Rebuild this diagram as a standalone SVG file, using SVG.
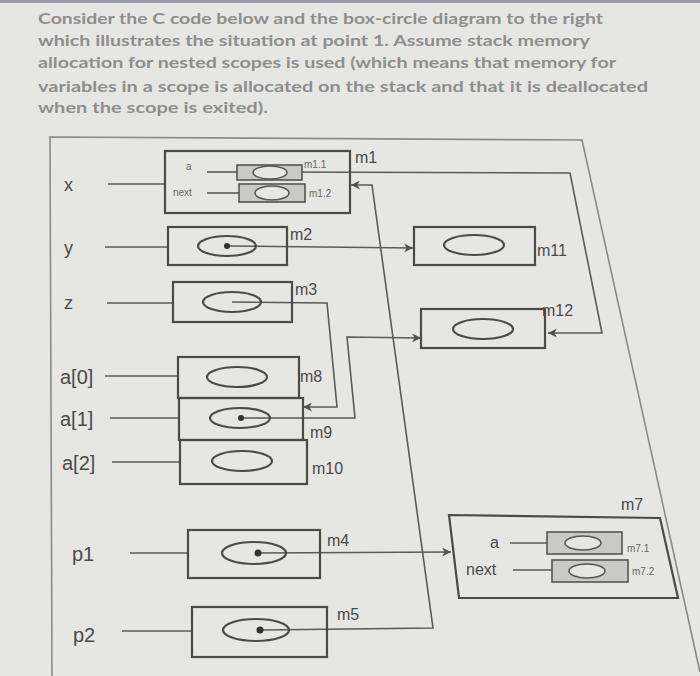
<svg xmlns="http://www.w3.org/2000/svg" width="700" height="676" viewBox="0 0 700 676">
<defs>
<marker id="ah" viewBox="0 0 10 10" refX="10" refY="5" markerWidth="10" markerHeight="9" markerUnits="userSpaceOnUse" orient="auto">
<path d="M0,0 L10,5 L0,10 L3,5 z" fill="#505050"/>
</marker>
<style>
.q{font-family:Lato,"Liberation Sans",sans-serif;font-weight:bold;font-size:16px;fill:#8e8e8e}
.lb{font-family:"Liberation Sans",Arial,sans-serif;fill:#4a4a4a}
.v{font-size:18px}
.ar{font-size:20px}
.m{font-size:16px}
.s{font-size:10px;fill:#666}
.box{fill:none;stroke:#4a4a4a;stroke-width:2.2}
.ibox{fill:#c9c9c7;stroke:#555;stroke-width:1.6}
.el{fill:none;stroke:#4a4a4a;stroke-width:2.2}
.iel{fill:#e6e6e4;stroke:#555;stroke-width:1.5}
.ln{fill:none;stroke:#5a5a5a;stroke-width:1.6}
.fr{fill:none;stroke:#8a8a8a;stroke-width:1.6}
.dot{fill:#333}
</style>
</defs>
<rect width="700" height="676" fill="#e6e6e4"/>
<rect width="700" height="3" fill="#9a9aa8"/>
<g id="question">
<text class="q" x="38" y="24" textLength="565" lengthAdjust="spacingAndGlyphs">Consider the C code below and the box-circle diagram to the right</text>
<text class="q" x="38" y="46" textLength="552" lengthAdjust="spacingAndGlyphs">which illustrates the situation at point 1. Assume stack memory</text>
<text class="q" x="38" y="68" textLength="578" lengthAdjust="spacingAndGlyphs">allocation for nested scopes is used (which means that memory for</text>
<text class="q" x="38" y="92" textLength="610" lengthAdjust="spacingAndGlyphs">variables in a scope is allocated on the stack and that it is deallocated</text>
<text class="q" x="38" y="113" textLength="230" lengthAdjust="spacingAndGlyphs">when the scope is exited).</text>
</g>
<g id="frame">
<path class="fr" d="M52,676 L50,137 L582,140 L700,672"/>
</g>
<g id="connectors">
<line class="ln" x1="108" y1="184" x2="165" y2="184"/>
<line class="ln" x1="207" y1="172" x2="237" y2="172"/>
<line class="ln" x1="207" y1="193" x2="239" y2="193"/>
<line class="ln" x1="105" y1="247" x2="168" y2="247"/>
<line class="ln" x1="107" y1="303" x2="173" y2="303"/>
<line class="ln" x1="105" y1="376" x2="177" y2="376"/>
<line class="ln" x1="110" y1="418" x2="178" y2="418"/>
<line class="ln" x1="112" y1="462" x2="180" y2="462"/>
<line class="ln" x1="130" y1="553" x2="188" y2="553"/>
<line class="ln" x1="122" y1="631" x2="192" y2="631"/>
<line class="ln" x1="510" y1="543" x2="547" y2="543"/>
<line class="ln" x1="513" y1="570" x2="552" y2="570"/>
<path class="ln" d="M273,172 L570,173 L602,333 L548,333" marker-end="url(#ah)"/>
<path class="ln" d="M227,246 L413,248" marker-end="url(#ah)"/>
<path class="ln" d="M232,302 L327,303 L337,407 L303,407" marker-end="url(#ah)"/>
<path class="ln" d="M241,418 L355,418 L347,337 L421,338" marker-end="url(#ah)"/>
<path class="ln" d="M258,553 L451,552" marker-end="url(#ah)"/>
<path class="ln" d="M262,630 L433,628 L372,185 L351,185" marker-end="url(#ah)"/>
</g>
<g id="x">
<text class="lb v" x="64" y="191">x</text>
</g>
<g id="m1">
<rect class="box" x="165" y="151" width="185" height="62"/>
<text class="lb m" x="355" y="163">m1</text>
<text class="lb s" x="186" y="170">a</text>
<text class="lb s" x="173" y="196">next</text>
<rect class="ibox" x="237" y="165" width="65" height="15"/>
<ellipse class="iel" cx="270" cy="172.5" rx="17" ry="6.5"/>
<text class="lb s" x="304" y="168">m1.1</text>
<rect class="ibox" x="239" y="184" width="66" height="18"/>
<ellipse class="iel" cx="272" cy="193" rx="17" ry="7"/>
<text class="lb s" x="309" y="197">m1.2</text>
</g>
<g id="y">
<text class="lb v" x="64" y="254">y</text>
</g>
<g id="m2">
<rect class="box" x="168" y="227" width="119" height="38"/>
<ellipse class="el" cx="227" cy="246" rx="29" ry="10"/>
<circle class="dot" cx="227" cy="246" r="3"/>
<text class="lb m" x="290" y="240">m2</text>
</g>
<g id="z">
<text class="lb v" x="64" y="309">z</text>
</g>
<g id="m3">
<rect class="box" x="173" y="282" width="119" height="40"/>
<ellipse class="el" cx="232" cy="302" rx="29" ry="10"/>
<text class="lb m" x="295" y="295">m3</text>
</g>
<g id="a0">
<text class="lb ar" x="60" y="384">a[0]</text>
</g>
<g id="a1">
<text class="lb ar" x="60" y="426">a[1]</text>
</g>
<g id="a2">
<text class="lb ar" x="62" y="470">a[2]</text>
</g>
<g id="m8">
<rect class="box" x="178" y="357" width="121" height="41"/>
<ellipse class="el" cx="237" cy="377" rx="30" ry="10"/>
<text class="lb m" x="300" y="382">m8</text>
</g>
<g id="m9">
<rect class="box" x="179" y="398" width="124" height="42"/>
<ellipse class="el" cx="240" cy="418" rx="30" ry="10"/>
<circle class="dot" cx="241" cy="418" r="3"/>
<text class="lb m" x="310" y="438">m9</text>
</g>
<g id="m10">
<rect class="box" x="180" y="440" width="127" height="44"/>
<ellipse class="el" cx="242" cy="461" rx="30" ry="10"/>
<text class="lb m" x="312" y="474">m10</text>
</g>
<g id="p1">
<text class="lb ar" x="72" y="561">p1</text>
</g>
<g id="m4">
<rect class="box" x="188" y="530" width="132" height="48"/>
<ellipse class="el" cx="254" cy="553" rx="32" ry="11"/>
<circle class="dot" cx="258" cy="553" r="3.5"/>
<text class="lb m" x="327" y="546">m4</text>
</g>
<g id="p2">
<text class="lb ar" x="73" y="642">p2</text>
</g>
<g id="m5">
<rect class="box" x="192" y="607" width="135" height="50"/>
<ellipse class="el" cx="256" cy="630" rx="33" ry="11"/>
<circle class="dot" cx="260" cy="630" r="3.5"/>
<text class="lb m" x="337" y="620">m5</text>
</g>
<g id="m11">
<rect class="box" x="414" y="227" width="121" height="38"/>
<ellipse class="el" cx="474" cy="245" rx="30" ry="10"/>
<text class="lb m" x="537" y="256">m11</text>
</g>
<g id="m12">
<rect class="box" x="421" y="309" width="124" height="39"/>
<ellipse class="el" cx="483" cy="329" rx="30" ry="10"/>
<text class="lb m" x="542" y="316">m12</text>
</g>
<g id="m7">
<polygon class="box" points="449,515 660,518 678,598 459,598"/>
<text class="lb m" x="621" y="510">m7</text>
<text class="lb m" x="490" y="548" fill="#555">a</text>
<text class="lb m" x="466" y="575">next</text>
<rect class="ibox" x="547" y="532" width="75" height="22"/>
<ellipse class="iel" cx="583" cy="543" rx="18" ry="7"/>
<text class="lb s" x="627" y="552">m7.1</text>
<rect class="ibox" x="552" y="560" width="76" height="22"/>
<ellipse class="iel" cx="587" cy="571" rx="18" ry="7"/>
<text class="lb s" x="632" y="575">m7.2</text>
</g>
</svg>
